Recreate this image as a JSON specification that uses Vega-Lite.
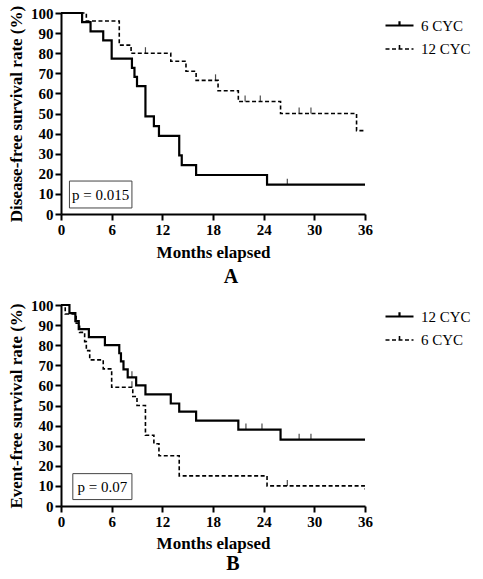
{
  "$schema": "https://vega.github.io/schema/vega-lite/v6.json",
  "padding": {"left": 7, "top": 5, "right": 5, "bottom": 2},
  "background": "white",
  "datasets": {
    "dfs": [
      {"t": 0, "s": 100, "grp": "6 CYC"}, {"t": 2.5, "s": 95.5, "grp": "6 CYC"}, {"t": 3.5, "s": 90.9, "grp": "6 CYC"},
      {"t": 5, "s": 86.4, "grp": "6 CYC"}, {"t": 6, "s": 77.3, "grp": "6 CYC"}, {"t": 8.4, "s": 72.7, "grp": "6 CYC"},
      {"t": 8.7, "s": 68.2, "grp": "6 CYC"}, {"t": 9, "s": 63.6, "grp": "6 CYC"}, {"t": 10, "s": 48.6, "grp": "6 CYC"},
      {"t": 11, "s": 43.7, "grp": "6 CYC"}, {"t": 11.6, "s": 38.9, "grp": "6 CYC"}, {"t": 14, "s": 29.2, "grp": "6 CYC"},
      {"t": 14.3, "s": 24.3, "grp": "6 CYC"}, {"t": 16, "s": 19.4, "grp": "6 CYC"}, {"t": 24.4, "s": 14.6, "grp": "6 CYC"},
      {"t": 36, "s": 14.6, "grp": "6 CYC"},
      {"t": 0, "s": 100, "grp": "12 CYC"}, {"t": 3, "s": 96, "grp": "12 CYC"}, {"t": 6.9, "s": 84, "grp": "12 CYC"},
      {"t": 8.3, "s": 80, "grp": "12 CYC"}, {"t": 13, "s": 76, "grp": "12 CYC"}, {"t": 14.8, "s": 71, "grp": "12 CYC"},
      {"t": 16, "s": 66.5, "grp": "12 CYC"}, {"t": 18.6, "s": 61.3, "grp": "12 CYC"}, {"t": 21, "s": 56, "grp": "12 CYC"},
      {"t": 26, "s": 50, "grp": "12 CYC"}, {"t": 35, "s": 41.5, "grp": "12 CYC"}, {"t": 36, "s": 41.5, "grp": "12 CYC"}
    ],
    "dfsCensor": [
      {"t": 26.8, "s": 14.6, "grp": "6 CYC"},
      {"t": 10, "s": 80, "grp": "12 CYC"}, {"t": 18.3, "s": 66.5, "grp": "12 CYC"}, {"t": 21.8, "s": 56, "grp": "12 CYC"},
      {"t": 23.6, "s": 56, "grp": "12 CYC"}, {"t": 28.2, "s": 50, "grp": "12 CYC"}, {"t": 29.6, "s": 50, "grp": "12 CYC"}
    ],
    "dfsBox": [{"t": 1.0, "t2": 8.4, "s": 3.0, "s2": 16.4, "tm": 4.7, "sm": 9.7, "label": "p = 0.015"}],
    "efs": [
      {"t": 0, "s": 100, "grp": "12 CYC"}, {"t": 1, "s": 96, "grp": "12 CYC"}, {"t": 1.7, "s": 92, "grp": "12 CYC"},
      {"t": 2.1, "s": 88, "grp": "12 CYC"}, {"t": 3.3, "s": 84, "grp": "12 CYC"}, {"t": 5.2, "s": 80, "grp": "12 CYC"},
      {"t": 6.9, "s": 76, "grp": "12 CYC"}, {"t": 7.1, "s": 72, "grp": "12 CYC"}, {"t": 7.4, "s": 68, "grp": "12 CYC"},
      {"t": 7.9, "s": 64, "grp": "12 CYC"}, {"t": 8.9, "s": 60, "grp": "12 CYC"}, {"t": 10, "s": 55.5, "grp": "12 CYC"},
      {"t": 13, "s": 51, "grp": "12 CYC"}, {"t": 14, "s": 47, "grp": "12 CYC"}, {"t": 16, "s": 42.5, "grp": "12 CYC"},
      {"t": 21, "s": 38, "grp": "12 CYC"}, {"t": 26, "s": 33, "grp": "12 CYC"}, {"t": 36, "s": 33, "grp": "12 CYC"},
      {"t": 0, "s": 100, "grp": "6 CYC"}, {"t": 0.5, "s": 95.5, "grp": "6 CYC"}, {"t": 1.8, "s": 90.9, "grp": "6 CYC"},
      {"t": 2.2, "s": 86.4, "grp": "6 CYC"}, {"t": 2.8, "s": 81.8, "grp": "6 CYC"}, {"t": 3.0, "s": 77.3, "grp": "6 CYC"},
      {"t": 3.4, "s": 72.7, "grp": "6 CYC"}, {"t": 5.0, "s": 68.2, "grp": "6 CYC"}, {"t": 6.0, "s": 59.1, "grp": "6 CYC"},
      {"t": 8.5, "s": 54.5, "grp": "6 CYC"}, {"t": 9.0, "s": 50, "grp": "6 CYC"}, {"t": 10, "s": 35.2, "grp": "6 CYC"},
      {"t": 11, "s": 31, "grp": "6 CYC"}, {"t": 11.6, "s": 25, "grp": "6 CYC"}, {"t": 14, "s": 15, "grp": "6 CYC"},
      {"t": 24.4, "s": 10, "grp": "6 CYC"}, {"t": 35.9, "s": 8.5, "grp": "6 CYC"}, {"t": 36, "s": 8.5, "grp": "6 CYC"}
    ],
    "efsCensor": [
      {"t": 8.4, "s": 64, "grp": "12 CYC"}, {"t": 21.9, "s": 38, "grp": "12 CYC"}, {"t": 23.8, "s": 38, "grp": "12 CYC"},
      {"t": 28.2, "s": 33, "grp": "12 CYC"}, {"t": 29.6, "s": 33, "grp": "12 CYC"},
      {"t": 8.4, "s": 59.1, "grp": "6 CYC"}, {"t": 26.8, "s": 10, "grp": "6 CYC"}
    ],
    "efsBox": [{"t": 1.4, "t2": 8.4, "s": 3.2, "s2": 16.1, "tm": 4.9, "sm": 9.7, "label": "p = 0.07"}]
  },
  "vconcat": [
    {
      "width": 304,
      "height": 201,
      "title": {"text": "A", "orient": "bottom", "fontSize": 20, "font": "Liberation Serif", "fontWeight": "bold", "color": "black", "offset": 7, "dx": 18},
      "encoding": {
        "x": {"field": "t", "type": "quantitative", "scale": {"domain": [0, 36], "nice": false},
              "axis": {"values": [0, 6, 12, 18, 24, 30, 36], "title": "Months elapsed", "titlePadding": 7}},
        "y": {"field": "s", "type": "quantitative", "scale": {"domain": [0, 100], "nice": false},
              "axis": {"values": [0, 10, 20, 30, 40, 50, 60, 70, 80, 90, 100], "tickCount": 11, "labelOverlap": false, "title": "Disease-free survival rate (%)", "titlePadding": 5}}
      },
      "layer": [
        {
          "data": {"name": "dfs"},
          "mark": {"type": "line", "interpolate": "step-after", "color": "black"},
          "encoding": {
            "strokeDash": {"field": "grp", "type": "nominal", "sort": ["6 CYC", "12 CYC"],
                           "scale": {"domain": ["6 CYC", "12 CYC"], "range": [[1, 0], [4, 2.5]]},
                           "legend": {"orient": "none", "legendX": 323, "legendY": -3, "title": null}},
            "strokeWidth": {"field": "grp", "type": "nominal", "scale": {"domain": ["6 CYC", "12 CYC"], "range": [2.2, 1.6]}, "legend": null}
          }
        },
        {
          "data": {"name": "dfsCensor"},
          "mark": {"type": "tick", "orient": "vertical", "color": "black", "size": 6, "thickness": 1.2, "yOffset": -3},
          "encoding": {}
        },
        {
          "data": {"name": "dfsBox"},
          "mark": {"type": "rect", "fill": "white", "stroke": "#444444", "strokeWidth": 1},
          "encoding": {"x2": {"field": "t2"}, "y2": {"field": "s2"}}
        },
        {
          "data": {"name": "dfsBox"},
          "mark": {"type": "text", "font": "Liberation Serif", "fontSize": 15, "color": "black", "baseline": "middle", "align": "center"},
          "encoding": {
            "x": {"field": "tm", "type": "quantitative"},
            "y": {"field": "sm", "type": "quantitative"},
            "text": {"field": "label"}
          }
        }
      ]
    },
    {
      "width": 304,
      "height": 201,
      "title": {"text": "B", "orient": "bottom", "fontSize": 20, "font": "Liberation Serif", "fontWeight": "bold", "color": "black", "offset": 3, "dx": 20},
      "encoding": {
        "x": {"field": "t", "type": "quantitative", "scale": {"domain": [0, 36], "nice": false},
              "axis": {"values": [0, 6, 12, 18, 24, 30, 36], "title": "Months elapsed", "titlePadding": 6}},
        "y": {"field": "s", "type": "quantitative", "scale": {"domain": [0, 100], "nice": false},
              "axis": {"values": [0, 10, 20, 30, 40, 50, 60, 70, 80, 90, 100], "tickCount": 11, "labelOverlap": false, "title": "Event-free survival rate (%)", "titlePadding": 5}}
      },
      "layer": [
        {
          "data": {"name": "efs"},
          "mark": {"type": "line", "interpolate": "step-after", "color": "black"},
          "encoding": {
            "strokeDash": {"field": "grp", "type": "nominal", "sort": ["12 CYC", "6 CYC"],
                           "scale": {"domain": ["12 CYC", "6 CYC"], "range": [[1, 0], [4, 2.5]]},
                           "legend": {"orient": "none", "legendX": 323, "legendY": -4, "title": null}},
            "strokeWidth": {"field": "grp", "type": "nominal", "scale": {"domain": ["12 CYC", "6 CYC"], "range": [2.2, 1.6]}, "legend": null}
          }
        },
        {
          "data": {"name": "efsCensor"},
          "mark": {"type": "tick", "orient": "vertical", "color": "black", "size": 6, "thickness": 1.2, "yOffset": -3},
          "encoding": {}
        },
        {
          "data": {"name": "efsBox"},
          "mark": {"type": "rect", "fill": "white", "stroke": "#444444", "strokeWidth": 1},
          "encoding": {"x2": {"field": "t2"}, "y2": {"field": "s2"}}
        },
        {
          "data": {"name": "efsBox"},
          "mark": {"type": "text", "font": "Liberation Serif", "fontSize": 15, "color": "black", "baseline": "middle", "align": "center"},
          "encoding": {
            "x": {"field": "tm", "type": "quantitative"},
            "y": {"field": "sm", "type": "quantitative"},
            "text": {"field": "label"}
          }
        }
      ]
    }
  ],
  "spacing": 11,
  "resolve": {"scale": {"strokeDash": "independent", "strokeWidth": "independent"}, "legend": {"strokeDash": "independent"}},
  "config": {
    "view": {"stroke": null},
    "axis": {
      "grid": false,
      "labelOverlap": false,
      "labelFlush": false,
      "domainColor": "black", "domainWidth": 2,
      "tickColor": "black", "tickWidth": 2, "tickSize": 6,
      "labelFont": "Liberation Serif", "labelFontSize": 15, "labelFontWeight": "bold", "labelColor": "black", "labelPadding": 2,
      "titleFont": "Liberation Serif", "titleFontSize": 17, "titleFontWeight": "bold", "titleColor": "black"
    },
    "legend": {
      "symbolType": "M-1,0H1M0,0V-0.3",
      "symbolSize": 784,
      "symbolStrokeColor": "black",
      "symbolFillColor": "transparent",
      "symbolStrokeWidth": 1.8,
      "labelFont": "Liberation Serif",
      "labelFontSize": 15,
      "labelColor": "black",
      "labelOffset": 6,
      "rowPadding": -12,
      "padding": 0
    }
  }
}
